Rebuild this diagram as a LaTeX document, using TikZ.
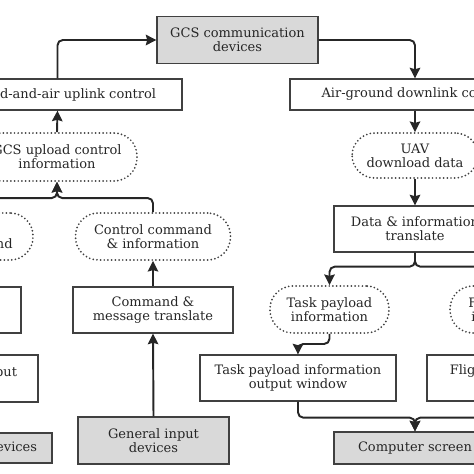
\documentclass[tikz,border=0pt]{standalone}
\usepackage{fontspec}
\setmainfont{DejaVu Serif}
\usetikzlibrary{arrows.meta}

\begin{document}
\begin{tikzpicture}[
  x=0.02cm, y=-0.02cm,
  base/.style={align=center, inner sep=1pt, text=black!85, font=\fontsize{7.4}{8}\selectfont},
  box/.style={base, draw=black!75, line width=0.75pt},
  device/.style={box, fill=black!15},
  info/.style={base, draw=black!75, line width=1.1pt, dash pattern=on 0pt off 2.1pt, line cap=round, rounded corners=13pt},
  arrow/.style={-{Stealth[length=6pt, width=6pt, inset=0.8pt]}, line width=1.1pt, draw=black!85, rounded corners=3pt},
]
  \useasboundingbox (0,0) rectangle (474,474);
  \clip (0,0) rectangle (474,474);

  % top row
  \node[device, minimum width=3.22cm, minimum height=0.94cm] (gcs) at (237.5,40) {GCS communication\\devices};
  \node[box, minimum width=4.98cm, minimum height=0.62cm] (uplink) at (57.5,94.5) {Ground-and-air uplink control};
  \node[box, minimum width=5cm, minimum height=0.62cm] (downlink) at (415,94.5) {Air-ground downlink control};

  % uplink side
  \node[info, minimum width=3.2cm, minimum height=0.96cm] (upinfo) at (57,157) {GCS upload control\\information};
  \node[info, minimum width=3.12cm, minimum height=0.94cm] (payctl) at (-45,236.5) {Task payload\\control command};
  \node[info, minimum width=3.1cm, minimum height=0.94cm] (ctlinfo) at (153,236.5) {Control command\\\& information};
  \node[box, minimum width=3.24cm, minimum height=0.92cm] (paytrans) at (-60,310) {Payload command\\translate};
  \node[box, minimum width=3.2cm, minimum height=0.92cm] (cmdtrans) at (153,310) {Command \&\\message translate};
  \node[box, minimum width=3.32cm, minimum height=0.94cm] (payin) at (-45,378.5) {Task payload input\\interface};
  \node[device, minimum width=3.4cm, minimum height=0.6cm] (specin) at (-33,448) {Special input devices};
  \node[device, minimum width=3.02cm, minimum height=0.94cm] (genin) at (153.5,440.5) {General input\\devices};

  % downlink side
  \node[info, minimum width=2.52cm, minimum height=0.9cm] (dldata) at (415,155.5) {UAV\\download data};
  \node[box, minimum width=3.24cm, minimum height=0.92cm] (dtrans) at (415,229) {Data \& information\\translate};
  \node[info, minimum width=2.38cm, minimum height=0.94cm] (payinfo) at (329.5,309.5) {Task payload\\information};
  \node[info, minimum width=2.4cm, minimum height=0.94cm] (flyinfo) at (510,309.5) {Flight status\\information};
  \node[box, minimum width=3.92cm, minimum height=0.92cm] (paywin) at (298,378) {Task payload information\\output window};
  \node[box, minimum width=4.2cm, minimum height=0.92cm] (flywin) at (532,378) {Flight status information\\output window};
  \node[device, minimum width=3.24cm, minimum height=0.64cm] (screen) at (415,448) {Computer screen};

  \draw[arrow] (uplink.north) |- (gcs.west);
  \draw[arrow] (gcs.east) -| (downlink.north);
  \draw[arrow] (upinfo.north) -- (uplink.south);
  \draw[arrow] (ctlinfo.north) -- ++(0,-14) -| (upinfo.south);
  \draw[arrow] (payctl.north) -- ++(0,-14) -| (upinfo.south);
  \draw[arrow] (cmdtrans.north) -- (ctlinfo.south);
  \draw[arrow] (genin.north) -- (cmdtrans.south);

  \draw[arrow] (downlink.south) -- (dldata.north);
  \draw[arrow] (dldata.south) -- (dtrans.north);
  \draw[arrow] (dtrans.south) -- ++(0,14) -| (payinfo.north);
  \draw[arrow] (dtrans.south) -- ++(0,14) -| (flyinfo.north);
  \draw[arrow] (payinfo.south) -- ++(0,10) -| (paywin.north);
  \draw[arrow] (paywin.south) -- ++(0,16) -| (screen.north);
  \draw[arrow] (flywin.south) -- ++(0,16) -| (screen.north);
\end{tikzpicture}
\end{document}
